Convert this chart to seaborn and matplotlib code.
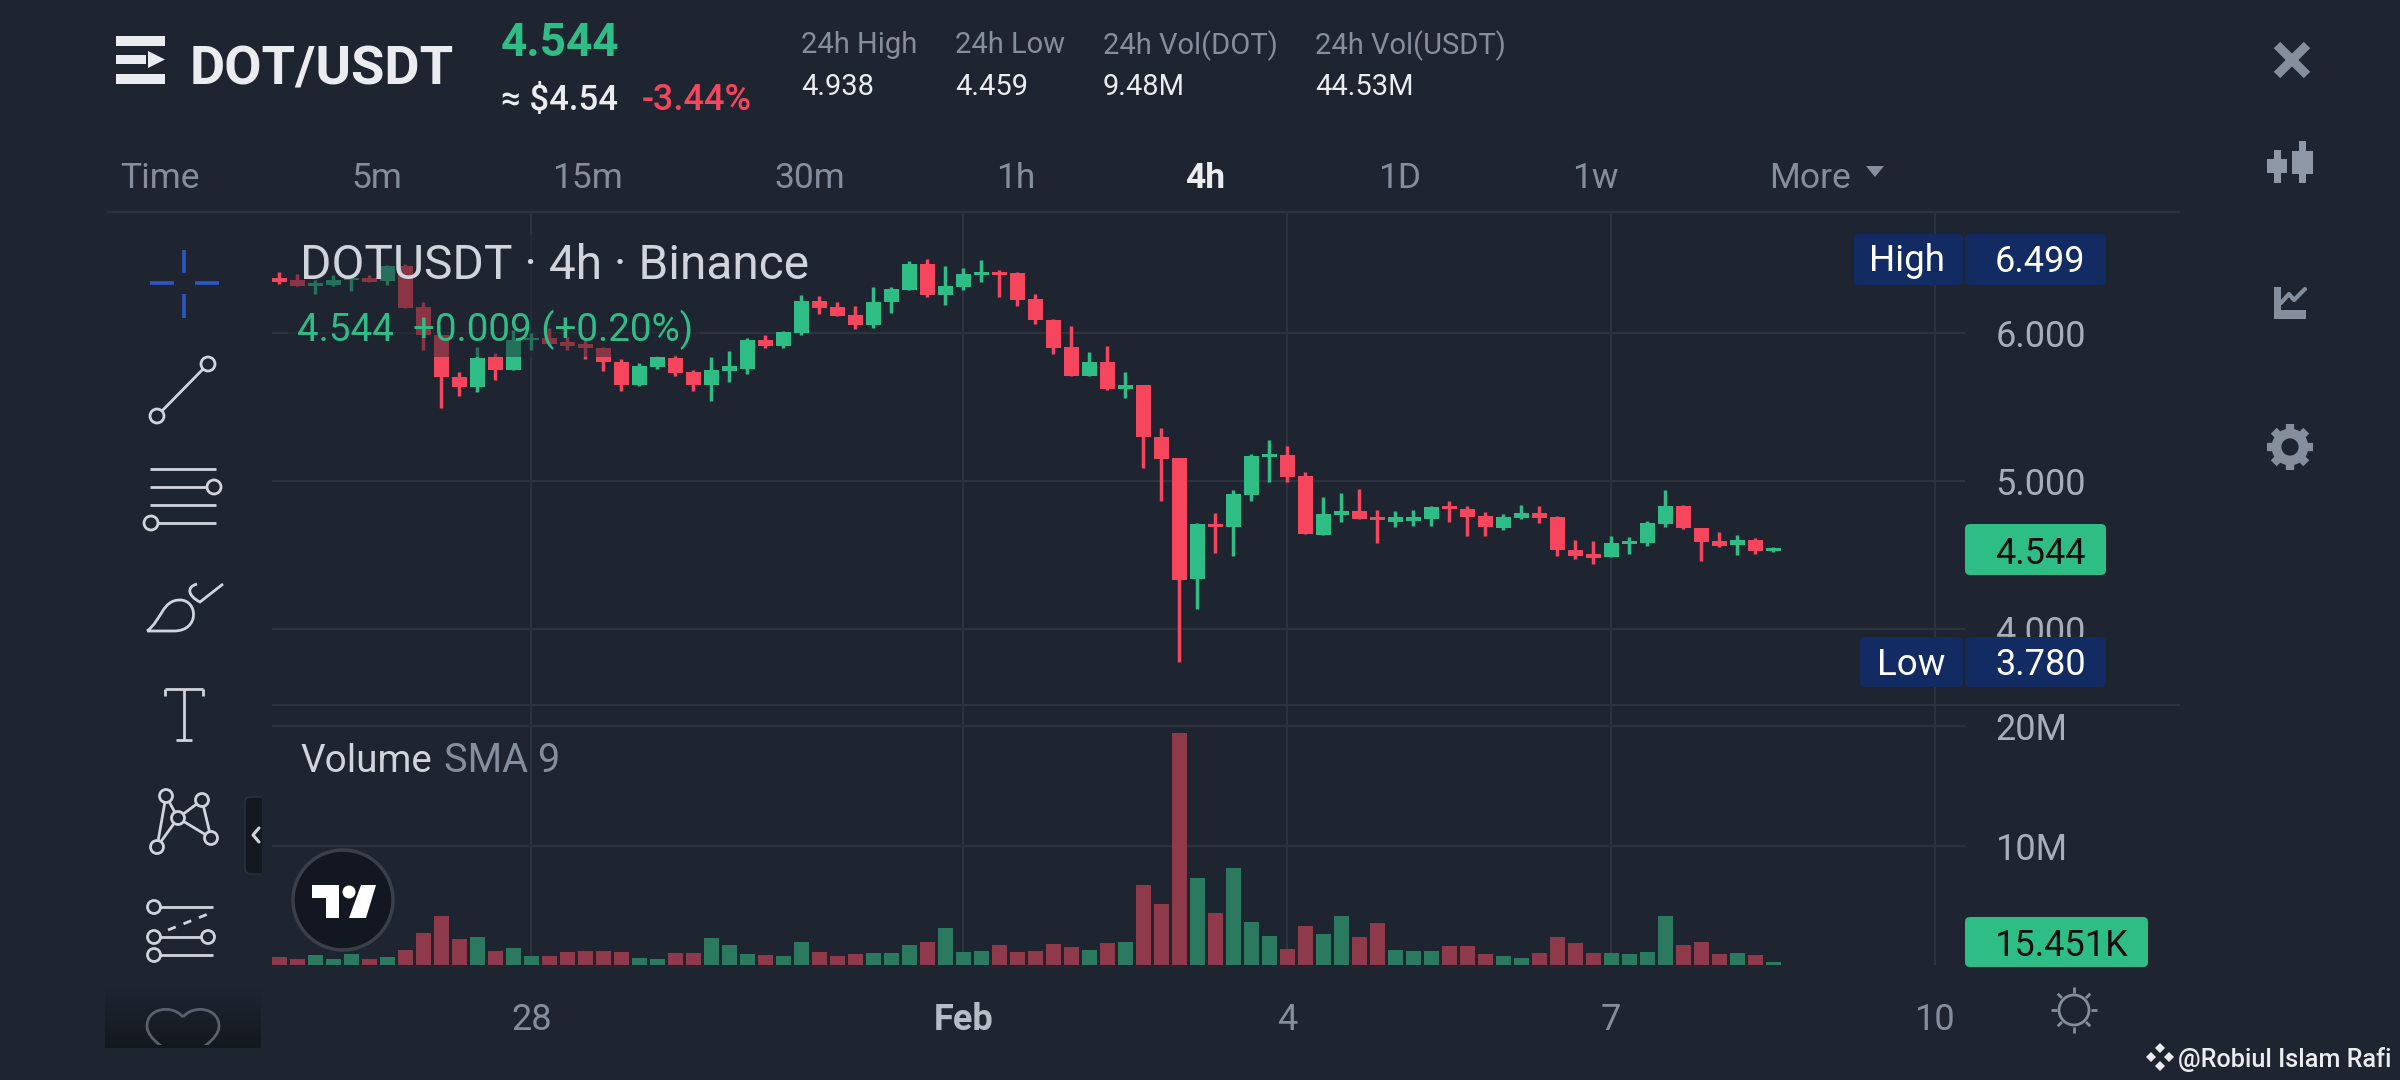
# DOT/USDT 4h - Binance mobile chart screen

import matplotlib
matplotlib.use('Agg')
import matplotlib.pyplot as plt
import numpy as np
import pandas as pd
import seaborn as sns
from matplotlib.colors import LinearSegmentedColormap
from matplotlib.patches import Circle, FancyBboxPatch, PathPatch, Polygon, Rectangle
from matplotlib.path import Path

# ── Data ──────────────────────────────────────────────────
opens = [6.374, 6.360, 6.315, 6.322, 6.356, 6.374, 6.349, 6.455, 6.176, 5.984, 5.703, 5.633,
         5.836, 5.752, 5.950, 5.966, 5.941, 5.928, 5.901, 5.806, 5.646, 5.773, 5.833, 5.739,
         5.646, 5.745, 5.759, 5.955, 5.912, 6.000, 6.218, 6.176, 6.122, 6.056, 6.207, 6.293,
         6.466, 6.259, 6.311, 6.394, 6.414, 6.403, 6.232, 6.090, 5.908, 5.712, 5.804, 5.624,
         5.651, 5.300, 5.158, 4.340, 4.712, 4.687, 4.908, 5.160, 5.178, 5.036, 4.637, 4.770,
         4.800, 4.757, 4.725, 4.732, 4.746, 4.831, 4.813, 4.766, 4.685, 4.752, 4.786, 4.759,
         4.536, 4.509, 4.489, 4.574, 4.583, 4.712, 4.833, 4.682, 4.597, 4.570, 4.604, 4.529]
highs = [6.410, 6.401, 6.356, 6.392, 6.378, 6.394, 6.462, 6.468, 6.212, 5.984, 5.734, 5.905,
         5.865, 6.018, 6.000, 6.034, 5.973, 5.950, 5.905, 5.824, 5.797, 5.842, 5.851, 5.748,
         5.838, 5.881, 5.964, 5.989, 6.016, 6.257, 6.250, 6.212, 6.185, 6.311, 6.311, 6.486,
         6.499, 6.455, 6.441, 6.495, 6.428, 6.412, 6.264, 6.097, 6.050, 5.874, 5.914, 5.736,
         5.651, 5.358, 5.158, 4.716, 4.784, 4.939, 5.185, 5.279, 5.234, 5.063, 4.894, 4.921,
         4.948, 4.806, 4.800, 4.806, 4.833, 4.867, 4.833, 4.791, 4.779, 4.840, 4.829, 4.766,
         4.604, 4.597, 4.628, 4.624, 4.732, 4.941, 4.840, 4.682, 4.658, 4.635, 4.617, 4.556]
lows = [6.333, 6.315, 6.266, 6.315, 6.282, 6.342, 6.322, 6.167, 5.883, 5.491, 5.577, 5.599,
        5.685, 5.752, 5.883, 5.919, 5.887, 5.824, 5.745, 5.606, 5.640, 5.759, 5.707, 5.606,
        5.543, 5.671, 5.725, 5.901, 5.896, 5.984, 6.131, 6.113, 6.029, 6.032, 6.137, 6.291,
        6.241, 6.191, 6.293, 6.347, 6.243, 6.185, 6.059, 5.860, 5.707, 5.707, 5.613, 5.563,
        5.088, 4.867, 3.780, 4.137, 4.516, 4.491, 4.867, 4.993, 4.993, 4.640, 4.633, 4.725,
        4.746, 4.583, 4.691, 4.698, 4.698, 4.725, 4.631, 4.631, 4.671, 4.746, 4.716, 4.495,
        4.475, 4.441, 4.489, 4.507, 4.561, 4.691, 4.673, 4.459, 4.556, 4.500, 4.509, 4.522]
closes = [6.347, 6.320, 6.338, 6.360, 6.372, 6.347, 6.455, 6.171, 5.984, 5.700, 5.633, 5.833,
          5.752, 5.955, 5.968, 5.928, 5.914, 5.896, 5.802, 5.646, 5.779, 5.836, 5.732, 5.646,
          5.752, 5.775, 5.955, 5.912, 6.009, 6.218, 6.171, 6.117, 6.056, 6.209, 6.300, 6.468,
          6.259, 6.320, 6.399, 6.412, 6.392, 6.225, 6.086, 5.901, 5.712, 5.804, 5.624, 5.651,
          5.295, 5.151, 4.333, 4.712, 4.687, 4.914, 5.171, 5.185, 5.029, 4.642, 4.777, 4.800,
          4.746, 4.734, 4.757, 4.759, 4.827, 4.809, 4.759, 4.687, 4.757, 4.786, 4.752, 4.531,
          4.495, 4.482, 4.581, 4.597, 4.718, 4.833, 4.680, 4.590, 4.563, 4.604, 4.529, 4.545]
volumes = [0.67, 0.50, 0.84, 0.50, 0.92, 0.50, 0.67, 1.28, 2.68, 4.11, 2.18, 2.35,
           1.20, 1.42, 0.75, 0.75, 1.09, 1.20, 1.20, 1.09, 0.59, 0.50, 1.00, 1.00,
           2.23, 1.68, 0.92, 0.84, 0.75, 1.93, 1.09, 0.75, 0.92, 1.00, 1.00, 1.68,
           1.93, 3.10, 1.09, 1.17, 1.68, 1.09, 1.17, 1.76, 1.51, 1.26, 1.84, 1.93,
           6.70, 5.11, 19.47, 7.29, 4.36, 8.13, 3.60, 2.43, 1.34, 3.27, 2.60, 4.11,
           2.35, 3.52, 1.26, 1.17, 1.17, 1.59, 1.59, 0.92, 0.75, 0.59, 1.00, 2.35,
           1.84, 1.00, 1.00, 0.92, 1.09, 4.11, 1.68, 1.93, 0.92, 1.00, 0.84, 0.25]

date_ticks = [14, 38, 56, 74, 92]
date_labels = ['28', 'Feb', '4', '7', '10']
price_ticks = [4, 5, 6]
price_labels = ['4.000', '5.000', '6.000']
vol_ticks = [10, 20]
vol_labels = ['10M', '20M']

stat_names = ['24h High', '24h Low', '24h Vol(DOT)', '24h Vol(USDT)']
stat_values = ['4.938', '4.459', '9.48M', '44.53M']
intervals = ['Time', '5m', '15m', '30m', '1h', '4h', '1D', '1w', 'More']

# ── Colours ───────────────────────────────────────────────
BG = '#1E2530'
GRID = '#2C333E'
UP = '#2EBD85'
DOWN = '#F6465D'
UP_DIM = '#2B7A5F'
DOWN_DIM = '#8E3A4A'
GREY = '#848E9C'
LIGHT = '#D1D4DC'
WHITE = '#EAECEF'
NAVY = '#132B63'
BLUE = '#2B56C6'

sns.set_theme(style='dark')
plt.rcParams['font.family'] = ['Roboto', 'DejaVu Sans']
plt.rcParams['axes.facecolor'] = BG
plt.rcParams['figure.facecolor'] = BG

W, H = 2400, 1080
fig = plt.figure(figsize=(W / 100, H / 100), dpi=100, facecolor=BG)


def px_axes(x0, y0, x1, y1):
    """Axes given by pixel box, y measured from the top of the image."""
    return fig.add_axes([x0 / W, 1 - y1 / H, (x1 - x0) / W, (y1 - y0) / H])


# ── Price pane ────────────────────────────────────────────
ax_price = px_axes(272, 212, 1965, 705)
x = np.arange(len(closes))
for i in x:
    up = closes[i] >= opens[i]
    col = UP if up else DOWN
    ax_price.vlines(i, lows[i], highs[i], color=col, lw=2.5, zorder=3)
    ax_price.bar(i, abs(closes[i] - opens[i]), bottom=min(opens[i], closes[i]),
                 width=0.83, color=col, lw=0, zorder=3)
ax_price.set_xlim(-0.406, 93.65)
ax_price.set_ylim(3.4865, 6.8176)
ax_price.set_yticks(price_ticks, price_labels)
ax_price.set_xticks(date_ticks)
ax_price.tick_params(labelbottom=False)

# ── Volume pane ───────────────────────────────────────────
ax_vol = px_axes(272, 706, 1965, 965)
df_vol = pd.DataFrame({
    'idx': x,
    'vol': volumes,
    'side': ['up' if c >= o else 'down' for o, c in zip(opens, closes)],
})
sns.barplot(data=df_vol, x='idx', y='vol', hue='side', native_scale=True, dodge=False,
            palette={'up': UP_DIM, 'down': DOWN_DIM}, width=0.83, saturation=1,
            errorbar=None, legend=False, linewidth=0, ax=ax_vol, zorder=3)
ax_vol.set_xlim(-0.406, 93.65)
ax_vol.set_ylim(0, 21.71)
ax_vol.set_yticks(vol_ticks, vol_labels)
ax_vol.set_xticks(date_ticks, date_labels)
ax_vol.set_xlabel('')
ax_vol.set_ylabel('')

for ax in (ax_price, ax_vol):
    ax.set_facecolor(BG)
    ax.grid(True, color=GRID, lw=1.6, zorder=0)
    ax.set_axisbelow(True)
    ax.yaxis.tick_right()
    ax.tick_params(axis='y', length=0, pad=22, labelsize=26, colors='#A7AEB9')
    ax.tick_params(axis='x', length=0, pad=27, labelsize=26, colors=GREY)
    for s in ax.spines.values():
        s.set_visible(False)
    for lab in ax.get_yticklabels():
        lab.set_va('center_baseline')
for lab in ax_vol.get_xticklabels():
    if lab.get_text() == 'Feb':
        lab.set_fontweight('bold')
        lab.set_color('#B7BDC6')

# ── Overlay axes in image pixels for the app chrome ───────
ui = fig.add_axes([0, 0, 1, 1], zorder=5)
ui.patch.set_alpha(0)
ui.axis('off')


def seg(x0, y0, x1, y1, col=LIGHT, lw=2.0, **kw):
    ui.plot([x0, x1], [y0, y1], color=col, lw=lw, solid_capstyle=kw.pop('cap', 'butt'), **kw)


def ring(cx, cy, r=7, col=LIGHT, lw=2.0):
    ui.add_patch(Circle((cx, cy), r, fc=BG, ec=col, lw=lw, zorder=4))


def box(x0, y0, x1, y1, col, rad=5):
    ui.add_patch(FancyBboxPatch((x0 + rad, y0 + rad), x1 - x0 - 2 * rad, y1 - y0 - 2 * rad,
                                boxstyle=f'round,pad={rad},rounding_size={rad}', fc=col, lw=0, zorder=3))


def label(px, py, s, size, col, weight='normal', ha='left', z=6):
    ui.text(px, py, s, fontsize=size, color=col, fontweight=weight, ha=ha, va='center_baseline', zorder=z)


# legend backdrop dims the candles behind it
ui.add_patch(Rectangle((288, 235), 412, 122, fc=BG, alpha=0.5, lw=0, zorder=1))

# grid rules that run past the panes
seg(107, 212, 2180, 212, GRID, 1.6)
seg(272, 705, 2180, 705, GRID, 1.6)

# ── Header ────────────────────────────────────────────────
ui.add_patch(Rectangle((116, 36), 49, 10, fc=WHITE, lw=0))
ui.add_patch(Rectangle((116, 55), 30, 9, fc=WHITE, lw=0))
ui.add_patch(Polygon([(148, 51), (165, 59.5), (148, 68)], fc=WHITE, lw=0))
ui.add_patch(Rectangle((116, 74), 49, 10, fc=WHITE, lw=0))
label(190, 64, 'DOT/USDT', 39, WHITE, 'bold')
label(501, 38, '4.544', 33, UP, 'bold')
label(501, 97, '≈ $4.54', 25, WHITE, 'medium')
label(642, 97, '-3.44%', 26, DOWN, 'medium')
for sx, name, val in zip([801, 955, 1103, 1315], stat_names, stat_values):
    label(sx, 42, name, 21, GREY)
    label(sx, 84, val, 21, WHITE)

for ix, name in zip([120, 351, 552, 774, 996, 1185, 1378, 1572, 1769], intervals):
    if name == '4h':
        label(ix, 175, name, 25.5, WHITE, 'bold')
    else:
        label(ix, 175, name, 25.5, GREY)
ui.add_patch(Polygon([(1866, 166), (1884, 166), (1875, 177)], fc=GREY, lw=0))

# ── Legend text ───────────────────────────────────────────
label(300, 261, 'DOTUSDT · 4h · Binance', 34.5, LIGHT)
label(297, 325, '4.544  +0.009 (+0.20%)', 27.8, UP)
label(300, 757, 'Volume', 27.8, LIGHT)
label(444, 757, 'SMA 9', 28.5, GREY)

# ── Price tags ────────────────────────────────────────────
box(1854, 234, 1963, 285, NAVY)
box(1965, 234, 2106, 285, NAVY)
label(1907, 257, 'High', 26.5, 'white', ha='center')
label(1995, 258, '6.499', 26, 'white')
box(1860, 637, 1963, 687, NAVY)
box(1965, 637, 2106, 687, NAVY)
label(1911, 661, 'Low', 26.5, 'white', ha='center')
label(1995, 661, '3.780', 26, 'white')
box(1965, 524, 2106, 575, UP)
label(1995, 550, '4.544', 26, '#0B0E11')
box(1965, 917, 2148, 967, UP)
label(1995, 942, '15.451K', 26, '#0B0E11')

# ── Left toolbar ──────────────────────────────────────────
for a in ((150, 283, 174, 283), (195, 283, 219, 283), (184, 250, 184, 273), (184, 294, 184, 318)):
    seg(*a, BLUE, 2.6)

seg(157, 416, 208, 364)
ring(157, 416)
ring(208, 364)

for yy in (469, 487, 505, 523):
    seg(150, yy, 216, yy)
ring(214, 487)
ring(151, 523)

brush = Path([(147, 631), (162, 620), (162, 600), (180, 600), (198, 600), (200, 631), (174, 631), (147, 631)],
             [Path.MOVETO, Path.CURVE4, Path.CURVE4, Path.CURVE4, Path.CURVE4, Path.CURVE4, Path.CURVE4, Path.LINETO])
ui.add_patch(PathPatch(brush, fc='none', ec=LIGHT, lw=2.0))
hook = Path([(197, 584), (186, 587), (188, 596), (200, 602), (223, 584)],
            [Path.MOVETO, Path.CURVE4, Path.CURVE4, Path.CURVE4, Path.LINETO])
ui.add_patch(PathPatch(hook, fc='none', ec=LIGHT, lw=2.0))

seg(184, 689, 184, 740)
seg(165, 689, 203, 689)
seg(165, 689, 165, 696)
seg(203, 689, 203, 696)
seg(176, 740, 192, 740)

nodes = [(166, 796), (202, 800), (178, 818), (157, 847), (211, 838)]
for a, b in ((0, 2), (0, 3), (2, 3), (2, 1), (1, 4), (2, 4)):
    seg(*nodes[a], *nodes[b])
for nx, ny in nodes:
    ring(nx, ny, 6.5)

seg(154, 907, 213, 907)
seg(154, 937, 208, 937)
seg(154, 955, 213, 955)
seg(168, 930, 208, 914, ls=(0, (3, 3)))
for nx, ny in ((154, 907), (154, 937), (208, 937), (154, 955)):
    ring(nx, ny, 6.5)

# faded favourites row at the bottom of the toolbar
fade = LinearSegmentedColormap.from_list('fade', [BG, '#14181F'])
ui.imshow(np.linspace(0, 1, 64)[:, None], extent=(105, 261, 1048, 988), cmap=fade,
          aspect='auto', zorder=1)
heart = Path([(183, 1017), (172, 1004), (147, 1008), (147, 1026), (147, 1040), (170, 1052), (183, 1060),
              (196, 1052), (219, 1040), (219, 1026), (219, 1008), (194, 1004), (183, 1017)],
             [Path.MOVETO] + [Path.CURVE4] * 12)
clip = Rectangle((105, 988), 156, 57, transform=ui.transData)
hp = PathPatch(heart, fc='none', ec='#5B616C', lw=2.0, zorder=2)
ui.add_patch(hp)
hp.set_clip_path(clip)

ui.add_patch(FancyBboxPatch((251, 803), 10, 65, boxstyle='round,pad=6,rounding_size=6',
                            fc='#14181F', ec='#2C333E', lw=1, zorder=2))
ui.add_patch(Rectangle((262, 790), 10, 90, fc=BG, lw=0, zorder=2))
ui.plot([259, 253, 259], [828, 835, 842], color=LIGHT, lw=2.2, zorder=3)

# TradingView badge
ui.add_patch(Circle((343, 900), 50, fc='#131722', ec='#3A3F4A', lw=2.5, zorder=3))
ui.add_patch(Polygon([(312, 885), (339, 885), (339, 918), (326, 918), (326, 898), (312, 898)],
                     fc='white', lw=0, zorder=4))
ui.add_patch(Circle((349, 892), 6.5, fc='white', lw=0, zorder=4))
ui.add_patch(Polygon([(349, 918), (366, 918), (376, 885), (361, 885)], fc='white', lw=0, zorder=4))

# ── Right toolbar ─────────────────────────────────────────
seg(2277, 45, 2307, 75, GREY, 6.5)
seg(2307, 45, 2277, 75, GREY, 6.5)

ui.add_patch(Rectangle((2267, 159), 20, 14, fc='#8F98A6', lw=0))
ui.add_patch(Rectangle((2274, 150), 7, 33, fc='#8F98A6', lw=0))
ui.add_patch(Rectangle((2292, 151), 21, 23, fc='#8F98A6', lw=0))
ui.add_patch(Rectangle((2299, 141), 7, 42, fc='#8F98A6', lw=0))

ui.add_patch(Polygon([(2274, 287), (2281, 287), (2281, 310), (2306, 310), (2306, 319), (2274, 319)], fc=GREY, lw=0))
ui.plot([2281, 2289, 2294, 2305], [303, 294, 300, 289], color=GREY, lw=3)

for ang in np.arange(0, 360, 45):
    ca, sa = np.cos(np.radians(ang)), np.sin(np.radians(ang))
    seg(2290 + 14 * ca, 447 + 14 * sa, 2290 + 23 * ca, 447 + 23 * sa, GREY, 6)
ui.add_patch(Circle((2290, 447), 13.5, fc=BG, ec=GREY, lw=7))

# day / night icon
for ang in np.arange(0, 360, 45):
    ca, sa = np.cos(np.radians(ang)), np.sin(np.radians(ang))
    seg(2074 + 17 * ca, 1010 + 17 * sa, 2074 + 23 * ca, 1010 + 23 * sa, GREY, 2.0)
ui.add_patch(Circle((2074, 1010), 15, fc='none', ec=GREY, lw=2.0))

# ── Watermark ─────────────────────────────────────────────
for dx, dy in ((0, -9), (-9, 0), (9, 0), (0, 9)):
    ui.add_patch(Polygon([(2160 + dx - 5, 1057 + dy), (2160 + dx, 1057 + dy - 5),
                          (2160 + dx + 5, 1057 + dy), (2160 + dx, 1057 + dy + 5)], fc=WHITE, lw=0))
label(2178, 1057, '@Robiul Islam Rafi', 18.2, WHITE, 'medium')

ui.set_xlim(0, W)
ui.set_ylim(H, 0)

fig.savefig('out.png', dpi=100, facecolor=BG)
plt.close(fig)
